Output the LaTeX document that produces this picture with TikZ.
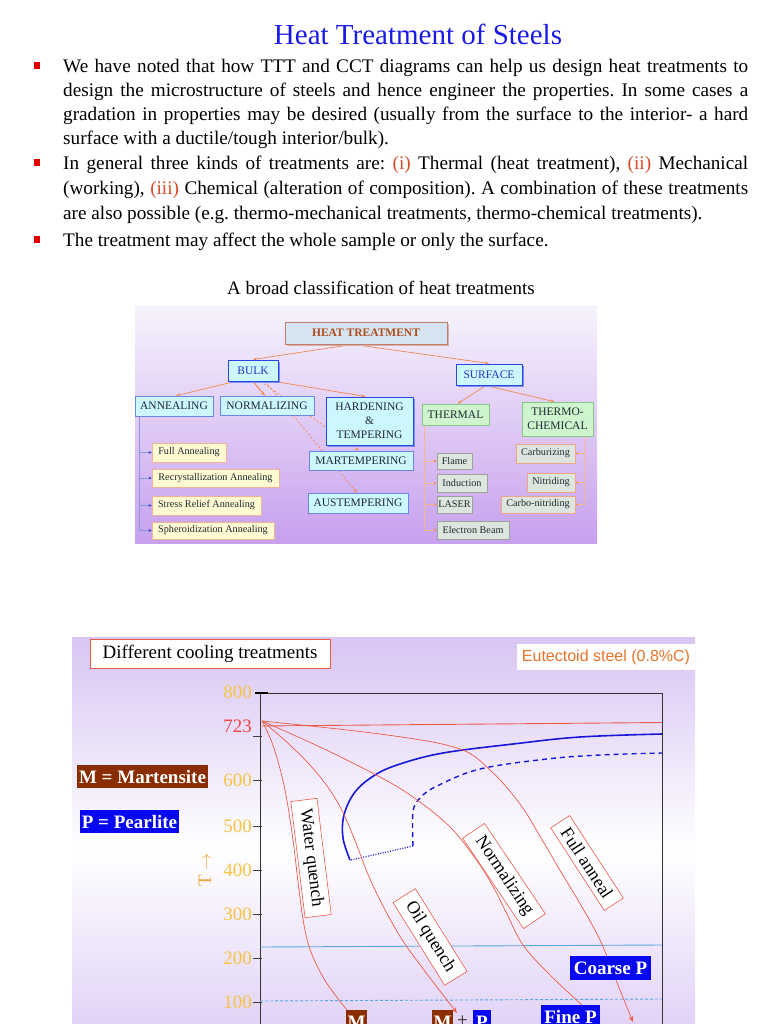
\documentclass[tikz,border=0pt]{standalone}
\usepackage{fontspec}
\setmainfont{Liberation Serif}
\newfontfamily\arialf{Liberation Sans}
\usetikzlibrary{arrows.meta,calc,shadows}
\pgfdeclarelayer{back}
\pgfdeclarelayer{lines}
\pgfsetlayers{back,lines,main}
\definecolor{titleB}{HTML}{1A1AE6}
\definecolor{numred}{HTML}{D84A28}
\definecolor{bullR}{HTML}{E00000}
\definecolor{dtop}{HTML}{F7F4FC}
\definecolor{dmid}{HTML}{EDE3F8}
\definecolor{dbot}{HTML}{C7A0EE}
\definecolor{cyanF}{HTML}{CCF7FF}
\definecolor{cyanD}{HTML}{6A86E6}
\definecolor{blueS}{HTML}{2A46E0}
\definecolor{blueT}{HTML}{2233CC}
\definecolor{darkT}{HTML}{1E2A30}
\definecolor{greenF}{HTML}{CFF5CF}
\definecolor{greenD}{HTML}{86C686}
\definecolor{yelF}{HTML}{FFFAD2}
\definecolor{yelD}{HTML}{F2B496}
\definecolor{grayF}{HTML}{DCE6DE}
\definecolor{grayD}{HTML}{9AA49C}
\definecolor{salD}{HTML}{F0A488}
\definecolor{orangeC}{HTML}{F08A50}
\definecolor{htF}{HTML}{D4E4F0}
\definecolor{htD}{HTML}{C07C6C}
\definecolor{htT}{HTML}{B04C1C}
\definecolor{bgTop}{HTML}{D8C5F3}
\definecolor{bgBot}{HTML}{E2D3F6}
\definecolor{redC}{HTML}{EE5A48}
\definecolor{yelL}{HTML}{F6C444}
\definecolor{axisR}{HTML}{F04444}
\definecolor{brownM}{HTML}{8A2E02}
\definecolor{blueP}{HTML}{0808F0}
\definecolor{lblue}{HTML}{58A6E6}
\definecolor{curveB}{HTML}{1818D8}
\definecolor{eutO}{HTML}{E8742A}
\definecolor{torange}{HTML}{F2A43C}
\definecolor{annL}{HTML}{8898D8}
\definecolor{thL}{HTML}{F4B890}
\frenchspacing
\begin{document}
\begin{tikzpicture}[x=1pt,y=-1pt,
  box/.style={rectangle, draw, line width=0.6pt, inner sep=0pt, align=center},
  capbox/.style={box, font=\fontsize{11.5}{14}\selectfont},
  cyanbox/.style={capbox, fill=cyanF, draw=cyanD, text=darkT},
  bluehd/.style={capbox, fill=cyanF, draw=blueS, line width=1pt, text=darkT,
    drop shadow={shadow xshift=1.6pt, shadow yshift=-1.6pt, fill=blueS!60, opacity=1}},
  greenbox/.style={capbox, fill=greenF, draw=greenD, text=darkT},
  smallbox/.style={box, font=\fontsize{10.2}{12}\selectfont, text=darkT},
  yelbox/.style={smallbox, fill=yelF, draw=yelD},
  graybox/.style={smallbox, fill=grayF, draw=grayD},
  chembox/.style={smallbox, fill=grayF, draw=salD},
  conn/.style={draw=orangeC, line width=0.7pt, -{Stealth[length=4pt,width=3pt]}},
  dconn/.style={conn, dashed, dash pattern=on 2pt off 2pt},
  abranch/.style={draw=annL, line width=0.6pt, -{Stealth[length=3pt,width=2.6pt,color=blueT]}},
  tbranch/.style={draw=thL, line width=0.6pt, -{Stealth[length=3pt,width=2.6pt,color=orangeC]}},
  bodytext/.style={anchor=base west, inner sep=0pt, font=\fontsize{19.2}{24}\selectfont},
  bullet/.style={fill=bullR, minimum width=6pt, minimum height=7pt, inner sep=0pt},
  curve/.style={draw=redC, line width=0.7pt},
  curvelab/.style={draw=redC, fill=white, line width=0.6pt, font=\fontsize{18}{20}\selectfont, inner xsep=9pt, inner ysep=5pt},
  ylab/.style={anchor=east, inner sep=0pt, font=\fontsize{19}{22}\selectfont, text=yelL},
  tagbox/.style={inner sep=0pt, text=white, font=\bfseries\fontsize{19}{22}\selectfont},
  brownbox/.style={tagbox, fill=brownM},
  bluebox/.style={tagbox, fill=blueP}
]
\useasboundingbox (0,0) rectangle (768,1024);
\clip (0,0) rectangle (768,1024);

% ---------- header text ----------
\node[anchor=base, inner sep=0pt, text=titleB, font=\fontsize{29}{32}\selectfont] (title) at (418,45) {Heat Treatment of Steels};

\node[bullet] (b1) at (37,66) {};
\node[bullet] (b2) at (37,163) {};
\node[bullet] (b3) at (37,239) {};

\node[bodytext] (l1) at (63,73) {\makebox[685pt][s]{We have noted that how TTT and CCT diagrams can help us design heat treatments to}};
\node[bodytext] (l2) at (63,97) {\makebox[685pt][s]{design the microstructure of steels and hence engineer the properties. In some cases a}};
\node[bodytext] (l3) at (63,121) {\makebox[685pt][s]{gradation in properties may be desired (usually from the surface to the interior- a hard}};
\node[bodytext] (l4) at (63,145) {surface with a ductile/tough interior/bulk).};
\node[bodytext] (l5) at (63,170) {\makebox[685pt][s]{In general three kinds of treatments are: {\color{numred}(i)} Thermal (heat treatment), {\color{numred}(ii)} Mechanical}};
\node[bodytext] (l6) at (63,195) {\makebox[685pt][s]{(working), {\color{numred}(iii)} Chemical (alteration of composition). A combination of these treatments}};
\node[bodytext] (l7) at (63,219) {are also possible (e.g. thermo-mechanical treatments, thermo-chemical treatments).};
\node[bodytext] (l8) at (63,246) {The treatment may affect the whole sample or only the surface.};

\node[anchor=base, inner sep=0pt, font=\fontsize{19}{22}\selectfont] (cap) at (381,294) {A broad classification of heat treatments};

% ---------- backgrounds ----------
\begin{pgfonlayer}{back}
\shade[top color=dtop, middle color=dmid, bottom color=dbot] (135,305) rectangle (597,543);
\shade[top color=bgTop, bottom color=white] (72,637) rectangle (695,850);
\shade[top color=white, bottom color=bgBot] (72,849.5) rectangle (695,1024);
\end{pgfonlayer}

% ---------- classification tree ----------
\node[box, fill=htF, draw=htD, line width=1pt, text=htT, font=\bfseries\fontsize{11.5}{13}\selectfont,
  minimum width=162pt, minimum height=22pt,
  drop shadow={shadow xshift=1.6pt, shadow yshift=-1.6pt, fill=htD!60, opacity=1}] (HT) at (366,333) {HEAT TREATMENT};
\node[bluehd, text=blueT, minimum width=50pt, minimum height=21pt] (BK) at (253,370.5) {BULK};
\node[bluehd, text=blueT, minimum width=66pt, minimum height=21pt] (SF) at (489,374.5) {SURFACE};
\node[cyanbox, minimum width=78pt, minimum height=20pt] (AN) at (174,406) {ANNEALING};
\node[cyanbox, minimum width=94pt, minimum height=19pt] (NO) at (267,405.5) {NORMALIZING};
\node[bluehd, minimum width=87pt, minimum height=48pt] (HD) at (369.5,421) {HARDENING\\\&\\TEMPERING};
\node[greenbox, minimum width=67pt, minimum height=21pt] (TM) at (455.5,414.5) {THERMAL};
\node[greenbox, minimum width=71pt, minimum height=34pt] (TC) at (557.5,419) {THERMO-\\CHEMICAL};
\node[cyanbox, minimum width=104pt, minimum height=19pt] (MT) at (361,460.5) {MARTEMPERING};
\node[cyanbox, minimum width=100pt, minimum height=20pt] (AT) at (358,503) {AUSTEMPERING};

\node[yelbox, minimum width=74pt, minimum height=19pt] (FA) at (189,452.5) {Full Annealing};
\node[yelbox, minimum width=127pt, minimum height=18pt] (RA) at (215.5,478) {Recrystallization Annealing};
\node[yelbox, minimum width=109pt, minimum height=19pt] (SA) at (206.5,505.5) {Stress Relief Annealing};
\node[yelbox, minimum width=122pt, minimum height=17pt] (PA) at (213,530.5) {Spheroidization Annealing};

\node[graybox, minimum width=35pt, minimum height=16pt] (FL) at (454.5,461) {Flame};
\node[graybox, minimum width=50pt, minimum height=18pt] (IN) at (462,483) {Induction};
\node[graybox, minimum width=35pt, minimum height=17pt] (LS) at (454.5,504.5) {LASER};
\node[graybox, minimum width=72pt, minimum height=18pt] (EB) at (473,530) {Electron Beam};

\node[chembox, minimum width=59pt, minimum height=19pt] (CB) at (545.5,453.5) {Carburizing};
\node[chembox, minimum width=48pt, minimum height=19pt] (NI) at (551,482.5) {Nitriding};
\node[chembox, minimum width=74pt, minimum height=17pt] (CN) at (538,504.5) {Carbo-nitriding};

\begin{pgfonlayer}{lines}
\draw[conn] ($(HT.south)+(-14,0)$) -- (BK.north);
\draw[conn] ($(HT.south)+(-12,0)$) -- (SF.north);
\draw[conn] ($(BK.south)+(-18,0)$) -- ($(AN.north)+(2,0)$);
\draw[conn, line width=1pt] ($(BK.south)+(0,0)$) -- ($(NO.north)+(-2,0)$);
\draw[conn] ($(BK.south)+(22,0)$) -- ($(HD.north)+(-4,0)$);
\draw[dconn] ($(BK.south)+(8,0)$) -- ($(MT.north)+(-2,0)$);
\draw[dconn] ($(BK.south)+(12,0)$) -- ($(AT.north)+(-1,0)$);
\draw[conn] ($(SF.south)+(-3,0)$) -- ($(TM.north)+(2,0)$);
\draw[conn] ($(SF.south)+(-3,0)$) -- ($(TC.north)+(-3,0)$);
\draw[abranch] ($(AN.south west)+(5,0)$) |- (FA.west);
\draw[abranch] ($(AN.south west)+(5,0)$) |- (RA.west);
\draw[abranch] ($(AN.south west)+(5,0)$) |- (SA.west);
\draw[abranch] ($(AN.south west)+(5,0)$) |- (PA.west);
\draw[tbranch] ($(TM.south west)+(3,0)$) |- (FL.west);
\draw[tbranch] ($(TM.south west)+(3,0)$) |- (IN.west);
\draw[tbranch] ($(TM.south west)+(3,0)$) |- (LS.west);
\draw[tbranch] ($(TM.south west)+(3,0)$) |- (EB.west);
\draw[tbranch] ($(TC.south east)+(-8,0)$) |- (CB.east);
\draw[tbranch] ($(TC.south east)+(-8,0)$) |- (NI.east);
\draw[tbranch] ($(TC.south east)+(-8,0)$) |- (CN.east);
\end{pgfonlayer}

% ---------- cooling diagram ----------
\node[draw=redC, fill=white, line width=0.8pt, inner sep=0pt, minimum width=240pt, minimum height=29pt,
  font=\fontsize{19}{22}\selectfont] (DCT) at (210,653.5) {Different cooling treatments};
\node[fill=white, inner sep=0pt, minimum width=178pt, minimum height=26pt, text=eutO,
  font=\arialf\fontsize{16}{18}\selectfont] (EUT) at (606,657) {Eutectoid steel (0.8\%C)};

\node[brownbox, minimum width=131pt, minimum height=23pt] (MM) at (142.5,776.5) {M = Martensite};
\node[bluebox, minimum width=99pt, minimum height=23pt] (PP) at (129.5,821.5) {P = Pearlite};

% axes
\draw[black!80, line width=0.8pt] (260,1030) -- (260,693) -- (662,693) -- (662,1030);
\draw[black, line width=2.6pt] (255,693) -- (268,693);
\foreach \yy in {736,780,826,870,914,958,1002} \draw[black!75, line width=0.9pt] (253,\yy) -- (262,\yy);
\node[ylab] (y800) at (252,692) {800};
\node[ylab, text=axisR] (y723) at (252,726) {723};
\node[ylab] (y600) at (252,780) {600};
\node[ylab] (y500) at (252,826) {500};
\node[ylab] (y400) at (252,870) {400};
\node[ylab] (y300) at (252,914) {300};
\node[ylab] (y200) at (252,958) {200};
\node[ylab] (y100) at (252,1002) {100};
\node[rotate=90, text=torange, inner sep=0pt, font=\fontsize{19}{22}\selectfont] (Tlab) at (205,870) {T $\rightarrow$};

% transformation lines
\draw[lblue, line width=0.9pt] (260,947) -- (662,945);
\draw[lblue, line width=0.9pt, dash pattern=on 3pt off 2pt] (260,1001) -- (662,999);
\draw[redC, line width=0.9pt] (260,726) -- (662,722.5);

% blue C curves
\draw[curveB, line width=1.6pt] plot[smooth, tension=0.6] coordinates {(662,734) (580,737) (513,744) (443,753) (400,764) (375,775) (355,792) (344,815) (343,838) (350,860)};
\draw[curveB, line width=1.2pt, dash pattern=on 1pt off 1.5pt] (351,860) -- (413,846);
\draw[curveB, line width=1.4pt, dash pattern=on 5pt off 4pt] plot[smooth, tension=0.6] coordinates {(413,846) (413,812) (420,798) (437,786) (480,769) (547,759) (600,755) (662,753)};

% cooling curves
\draw[curve] plot[smooth, tension=0.6] coordinates {(262,721) (271,740) (279,765) (286,795) (293,840) (299,890) (304,925) (311,952) (326,982) (347,1010)};
\draw[curve, -{Stealth[length=6pt,width=4.5pt]}] plot[smooth, tension=0.6] coordinates {(262,721) (290,745) (317,773) (338,803) (354,838) (367,872) (381,902) (401,938) (424,970) (457,1013)};
\draw[curve] plot[smooth, tension=0.6] coordinates {(262,721) (320,747) (380,777) (413,797) (447,824) (470,851) (490,881) (506,912) (523,945) (550,975) (582,1005)};
\draw[curve, -{Stealth[length=6pt,width=4.5pt]}] plot[smooth, tension=0.6] coordinates {(262,721) (380,734) (457,748) (490,770) (520,804) (541,838) (561,872) (582,907) (600,940) (614,975) (624,1000) (633,1022)};

% curve labels
\node[curvelab, rotate=-83] (WQ) at (311,858) {Water quench};
\node[curvelab, rotate=-58] (OQ) at (430,937) {Oil quench};
\node[curvelab, rotate=-56] (NZ) at (504,876) {Normalizing};
\node[curvelab, rotate=-57] (FAN) at (587,863) {Full anneal};

% phase tags
\node[bluebox, minimum width=81pt, minimum height=24pt] (CP) at (610.5,968) {Coarse P};
\node[bluebox, minimum width=59pt, minimum height=24pt] (FP) at (570.5,1017) {Fine P};
\node[brownbox, minimum width=21pt, minimum height=24pt] (M1) at (356.5,1022) {M};
\node[brownbox, minimum width=21pt, minimum height=24pt] (M2) at (442.5,1022) {M};
\node[inner sep=0pt, text=black!85, font=\fontsize{19}{22}\selectfont] (plus) at (462.5,1021) {+};
\node[bluebox, minimum width=18pt, minimum height=24pt] (P2) at (482,1022) {P};
\end{tikzpicture}
\end{document}
